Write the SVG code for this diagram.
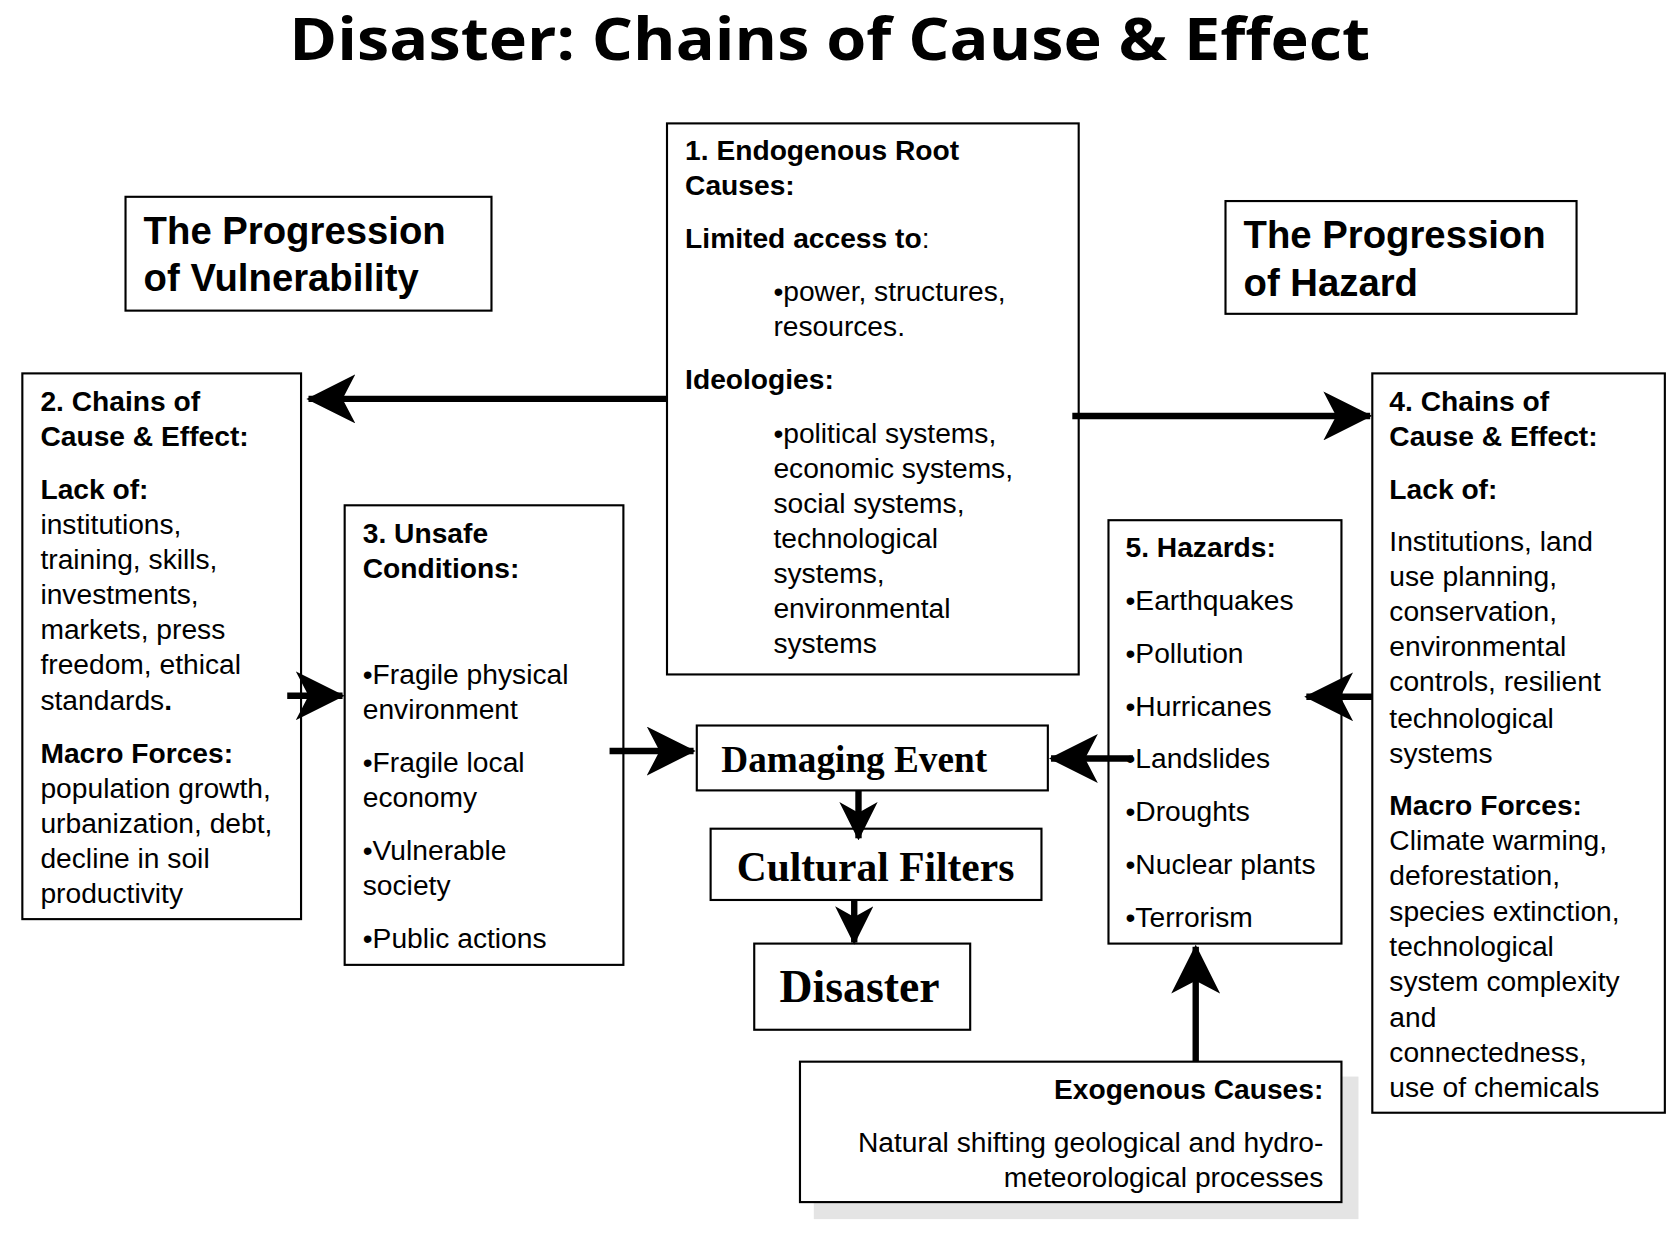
<svg xmlns="http://www.w3.org/2000/svg" width="1668" height="1242" viewBox="0 0 1668 1242">
<style>
.b{fill:#fff;stroke:#000;stroke-width:2}
.t{font-family:"Liberation Sans",Arial,sans-serif;font-size:26.5px;fill:#000}
.bd{font-weight:bold}
.h{font-family:"Liberation Sans",Arial,sans-serif;font-size:36px;font-weight:bold}
.s{font-family:"Liberation Serif","Times New Roman",serif;font-weight:bold;text-anchor:middle}
.a{stroke:#000;stroke-width:6;fill:none}
</style>
<defs>
<marker id="m" markerUnits="userSpaceOnUse" markerWidth="46" markerHeight="46" viewBox="0 0 46 46" refX="44" refY="23" orient="auto"><path d="M46,23 L0,0 L12,23 L0,46 Z"/></marker>
<marker id="ms" markerUnits="userSpaceOnUse" markerWidth="36" markerHeight="36" viewBox="0 0 36 36" refX="34" refY="18" orient="auto"><path d="M36,18 L0,0 L10,18 L0,36 Z"/></marker>
</defs>
<rect width="1668" height="1242" fill="#fff"/>
<g transform="scale(1.0638)">
<g id="title"><text x="780" y="56" text-anchor="middle" font-family="'Open Sans','Liberation Sans',sans-serif" font-weight="bold" font-size="55" textLength="1016" lengthAdjust="spacingAndGlyphs">Disaster: Chains of Cause &amp; Effect</text></g>
<g id="n1"><rect class="b" x="627" y="116" width="387" height="518" stroke-width="3.5"/>
<text class="t"><tspan class="bd" x="644" y="150">1. Endogenous Root</tspan><tspan class="bd" x="644" y="183">Causes:</tspan><tspan class="bd" x="644" y="233">Limited access to</tspan><tspan>:</tspan><tspan x="727" y="283">•power, structures,</tspan><tspan x="727" y="316">resources.</tspan><tspan class="bd" x="644" y="366">Ideologies:</tspan><tspan x="727" y="416">•political systems,</tspan><tspan x="727" y="449">economic systems,</tspan><tspan x="727" y="482">social systems,</tspan><tspan x="727" y="515">technological</tspan><tspan x="727" y="548">systems,</tspan><tspan x="727" y="581">environmental</tspan><tspan x="727" y="614">systems</tspan></text></g>
<g id="pv"><rect class="b" x="118" y="185" width="344" height="107"/><text class="h"><tspan x="135" y="229">The Progression</tspan><tspan x="135" y="274">of Vulnerability</tspan></text></g>
<g id="ph"><rect class="b" x="1152" y="189" width="330" height="106"/><text class="h"><tspan x="1169" y="233">The Progression</tspan><tspan x="1169" y="278">of Hazard</tspan></text></g>
<g id="n2"><rect class="b" x="21" y="351" width="262" height="513"/>
<text class="t"><tspan class="bd" x="38" y="386">2. Chains of</tspan><tspan class="bd" x="38" y="419">Cause &amp; Effect:</tspan><tspan class="bd" x="38" y="469">Lack of:</tspan><tspan x="38" y="502">institutions,</tspan><tspan x="38" y="535">training, skills,</tspan><tspan x="38" y="568">investments,</tspan><tspan x="38" y="601">markets, press</tspan><tspan x="38" y="634">freedom, ethical</tspan><tspan x="38" y="667">standards</tspan><tspan class="bd">.</tspan><tspan class="bd" x="38" y="717">Macro Forces:</tspan><tspan x="38" y="750">population growth,</tspan><tspan x="38" y="783">urbanization, debt,</tspan><tspan x="38" y="816">decline in soil</tspan><tspan x="38" y="849">productivity</tspan></text></g>
<g id="n3"><rect class="b" x="324" y="475" width="262" height="432"/>
<text class="t"><tspan class="bd" x="341" y="510">3. Unsafe</tspan><tspan class="bd" x="341" y="543">Conditions:</tspan><tspan x="341" y="643">•Fragile physical</tspan><tspan x="341" y="676">environment</tspan><tspan x="341" y="726">•Fragile local</tspan><tspan x="341" y="759">economy</tspan><tspan x="341" y="808">•Vulnerable</tspan><tspan x="341" y="841">society</tspan><tspan x="341" y="891">•Public actions</tspan></text></g>
<g id="n5"><rect class="b" x="1042" y="489" width="219" height="398"/>
<text class="t"><tspan class="bd" x="1058" y="524">5. Hazards:</tspan><tspan x="1058" y="573">•Earthquakes</tspan><tspan x="1058" y="623">•Pollution</tspan><tspan x="1058" y="673">•Hurricanes</tspan><tspan x="1058" y="722">•Landslides</tspan><tspan x="1058" y="772">•Droughts</tspan><tspan x="1058" y="822">•Nuclear plants</tspan><tspan x="1058" y="871">•Terrorism</tspan></text></g>
<g id="n4"><rect class="b" x="1290" y="351" width="275" height="695"/>
<text class="t"><tspan class="bd" x="1306" y="386">4. Chains of</tspan><tspan class="bd" x="1306" y="419">Cause &amp; Effect:</tspan><tspan class="bd" x="1306" y="469">Lack of:</tspan><tspan x="1306" y="518">Institutions, land</tspan><tspan x="1306" y="551">use planning,</tspan><tspan x="1306" y="584">conservation,</tspan><tspan x="1306" y="617">environmental</tspan><tspan x="1306" y="650">controls, resilient</tspan><tspan x="1306" y="684">technological</tspan><tspan x="1306" y="717">systems</tspan><tspan class="bd" x="1306" y="766">Macro Forces:</tspan><tspan x="1306" y="799">Climate warming,</tspan><tspan x="1306" y="832">deforestation,</tspan><tspan x="1306" y="866">species extinction,</tspan><tspan x="1306" y="899">technological</tspan><tspan x="1306" y="932">system complexity</tspan><tspan x="1306" y="965">and</tspan><tspan x="1306" y="998">connectedness,</tspan><tspan x="1306" y="1031">use of chemicals</tspan></text></g>
<g id="de"><rect class="b" x="655" y="682" width="330" height="61"/><text class="s" x="803" y="726" font-size="35">Damaging Event</text></g>
<g id="cf"><rect class="b" x="668" y="779" width="311" height="67"/><text class="s" x="823" y="828" font-size="39">Cultural Filters</text></g>
<g id="ds"><rect class="b" x="709" y="887" width="203" height="81" stroke-width="5"/><text class="s" x="808" y="942" font-size="43">Disaster</text></g>
<g id="ex"><rect x="765" y="1012" width="512" height="134" fill="#e4e4e4"/><rect class="b" x="752" y="998" width="509" height="132"/>
<text class="t" text-anchor="end"><tspan class="bd" x="1244" y="1033">Exogenous Causes:</tspan><tspan x="1244" y="1083">Natural shifting geological and hydro-</tspan><tspan x="1244" y="1116">meteorological processes</tspan></text></g>
<g id="connectors">
<line class="a" x1="627" y1="375" x2="290" y2="375" marker-end="url(#m)"/>
<line class="a" x1="1008" y1="391" x2="1288" y2="391" marker-end="url(#m)"/>
<line class="a" x1="270" y1="654" x2="322" y2="654" marker-end="url(#m)"/>
<line class="a" x1="573" y1="706" x2="652" y2="706" marker-end="url(#m)"/>
<line class="a" x1="1290" y1="655" x2="1228" y2="655" marker-end="url(#m)"/>
<line class="a" x1="1065" y1="713" x2="988" y2="713" marker-end="url(#m)"/>
<line class="a" x1="807" y1="743" x2="807" y2="788" marker-end="url(#ms)"/>
<line class="a" x1="803" y1="846" x2="803" y2="886" marker-end="url(#ms)"/>
<line class="a" x1="1124" y1="998" x2="1124" y2="890" marker-end="url(#m)"/>
</g>
</g>
</svg>
